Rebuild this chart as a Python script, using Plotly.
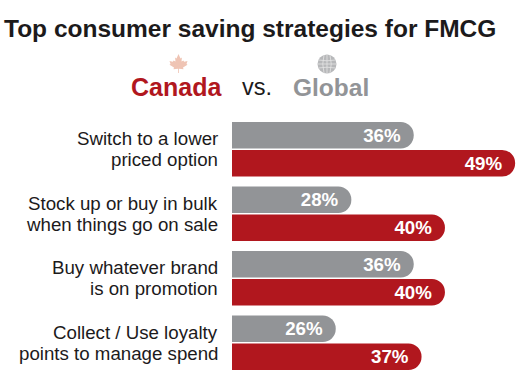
import plotly.graph_objects as go

categories = ["Switch to a lower<br>priced option",
              "Stock up or buy in bulk<br>when things go on sale",
              "Buy whatever brand<br>is on promotion",
              "Collect / Use loyalty<br>points to manage spend"]
global_vals = [36, 28, 36, 26]
canada_vals = [49, 40, 40, 37]

GRAY = "#929497"
RED = "#B1171E"
INK = "#1c1a1b"
FONT = "Liberation Sans, Arial, sans-serif"
W, H = 530, 386
ML, MR, MT, MB = 232, 8, 117, 11

fig = go.Figure()
for name, vals, col in (("Global", global_vals, GRAY), ("Canada", canada_vals, RED)):
    fig.add_bar(name=name, y=categories, x=vals, orientation="h", marker_color=col,
                marker_line_width=0, text=vals, texttemplate="<b>%{x}%</b>",
                textposition="inside", insidetextanchor="end", textangle=0,
                constraintext="none",
                textfont=dict(family=FONT, size=19, color="white"))


def px(x):
    return (x - ML) / (W - ML - MR)


def py(y):
    return 1 - (y - MT) / (H - MT - MB)


def label(text, x, y, size, color, anchor="left", bold=False):
    fig.add_annotation(xref="paper", yref="paper", x=px(x), y=py(y), text=f"<b>{text}</b>" if bold else text,
                       showarrow=False, xanchor=anchor, yanchor="middle", align=anchor,
                       font=dict(family=FONT, size=size, color=color), borderpad=0, borderwidth=0)


label("Top consumer saving strategies for FMCG", 4, 28.5, 24.5, INK, bold=True)
label("Canada", 131, 87, 25, RED, bold=True)
label("vs.", 242, 87, 23.5, INK)
label("Global", 293, 87, 24.5, GRAY, bold=True)

# Category labels: two right-aligned lines with tight leading, tied to the category axis
for cat in categories:
    for line, shift in zip(cat.split("<br>"), (10.5, -10.5)):
        fig.add_annotation(xref="paper", yref="y", x=px(218.5), y=cat, text=line, showarrow=False,
                           xanchor="right", yanchor="middle", yshift=shift, borderpad=0,
                           font=dict(family=FONT, size=18.7, color=INK))

LEAF = ("M0,10 L2,5.5 L3.4,6.6 L3,2.5 L5,3.6 L5.6,2.2 L9,3 L8,0 L9,-0.8 L4.5,-3.6 L5,-5.2 "
        "L0.4,-4.7 L0.4,-9 L-0.4,-9 L-0.4,-4.7 L-5,-5.2 L-4.5,-3.6 L-9,-0.8 L-8,0 L-9,3 "
        "L-5.6,2.2 L-5,3.6 L-3,2.5 L-3.4,6.6 L-2,5.5 Z")
fig.add_shape(type="path", xref="paper", yref="paper", xsizemode="pixel", ysizemode="pixel",
              xanchor=px(178.5), yanchor=py(64), path=LEAF, fillcolor="#EFC4B4", line_width=0)

GX, GY = 327, 64
GLOBE_COL = "#B7B8BA"
fig.add_shape(type="circle", xref="paper", yref="paper", xsizemode="pixel", ysizemode="pixel",
              xanchor=px(GX), yanchor=py(GY), x0=-9.5, x1=9.5, y0=-9.5, y1=9.5,
              fillcolor=GLOBE_COL, line_width=0)
for path in ("M-9.5,0 L9.5,0", "M-8.6,4 Q0,2.4 8.6,4", "M-8.6,-4 Q0,-2.4 8.6,-4",
             "M0,-9.5 L0,9.5", "M-3,-9 Q-5.5,0 -3,9", "M3,-9 Q5.5,0 3,9"):
    fig.add_shape(type="path", xref="paper", yref="paper", xsizemode="pixel", ysizemode="pixel",
                  xanchor=px(GX), yanchor=py(GY), path=path,
                  line=dict(color="#E4E4E5", width=0.8))

fig.update_layout(
    width=W, height=H, autosize=False, margin=dict(l=ML, r=MR, t=MT, b=MB),
    paper_bgcolor="white", plot_bgcolor="white", showlegend=False,
    barmode="group", bargap=0.13, bargroupgap=0.05, barcornerradius=13,
    xaxis=dict(range=[12.7, 49.88], visible=False, fixedrange=True),
    yaxis=dict(autorange="reversed", showline=False, showgrid=False, ticks="", showticklabels=False,
               fixedrange=True),
)
fig.write_html("out.html", config=dict(displayModeBar=False),
               post_script="document.body.style.margin='0';document.documentElement.style.overflow='hidden';")
